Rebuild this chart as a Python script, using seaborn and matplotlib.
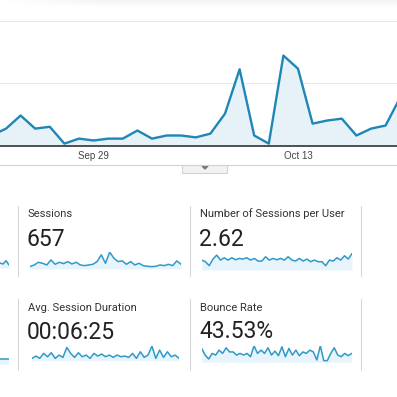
import numpy as np
import pandas as pd
import matplotlib
matplotlib.use("Agg")
import matplotlib.pyplot as plt
import seaborn as sns

sns.set_theme(style="white")
plt.rcParams['font.family'] = ['Roboto', 'DejaVu Sans']

# main chart: daily values Sep 22 .. Oct 20
days = pd.date_range('2019-09-22', '2019-10-20')
daily = [1.6, 2.7, 4.8, 2.7, 3.0, 0.3, 1.1, 0.8, 1.1, 1.1, 2.4, 1.1, 1.6, 1.6, 1.3,
         1.9, 5.1, 12.2, 1.6, 0.3, 14.4, 12.3, 3.5, 4.0, 4.3, 1.6, 2.7, 3.2, 7.7]
tick_dates = ['2019-09-29', '2019-10-13']
tick_labels = ['Sep 29', 'Oct 13']

# scorecards
card_titles = ['Sessions', 'Number of Sessions per User', 'Avg. Session Duration', 'Bounce Rate']
card_values = ['657', '2.62', '00:06:25', '43.53%']
sessions = [7, 12, 20, 17, 12, 27, 14, 20, 16, 22, 15, 20, 12, 10, 12, 14, 22, 42, 17, 50,
            32, 22, 24, 14, 22, 12, 17, 10, 8, 7, 8, 12, 10, 14, 10, 24, 14]
per_user = [2.62, 2.52, 2.28, 2.68, 2.92, 2.62, 2.76, 2.62, 2.76, 2.64, 2.72, 2.68, 2.76, 2.62,
            2.72, 2.56, 2.56, 2.82, 2.62, 2.72, 2.64, 2.72, 2.62, 2.82, 2.62, 2.56, 2.72, 2.56,
            2.68, 2.52, 2.62, 2.52, 2.52, 2.28, 2.62, 2.56, 2.76, 2.62, 2.88, 2.68, 3.02]
duration = [175, 350, 175, 550, 300, 600, 175, 425, 250, 1000, 550, 250, 600, 300, 425, 175,
            550, 350, 500, 300, 425, 250, 425, 300, 350, 250, 550, 175, 675, 250, 425, 1100,
            175, 800, 250, 675, 300, 425, 175]
bounce = [55.5, 39.5, 29.9, 43.5, 39.5, 51.5, 43.5, 57.1, 47.1, 47.1, 39.5, 43.5, 39.5, 43.5,
          35.5, 61.9, 43.5, 51.5, 43.5, 57.1, 39.5, 49.1, 37.9, 59.5, 35.5, 55.5, 39.5, 51.5,
          37.9, 47.1, 43.5, 51.5, 47.1, 27.5, 61.9, 25.9, 25.9, 43.5, 57.1, 39.5, 35.5, 43.5,
          37.9, 43.5]
users_tail = [5, 4, 7.3, 3]
pages_tail = [6, 6, 6, 6]

W = H = 397
LINE = '#1f86b6'
FILL = '#e6f2f8'
SPARK = '#3099c8'
SPARK_FILL = '#e8f4fb'


def fr(x0, y0, x1, y1):
    # pixel box -> figure fraction rect
    return [x0 / W, 1 - y1 / H, (x1 - x0) / W, (y1 - y0) / H]


fig = plt.figure(figsize=(W / 100, H / 100), dpi=100)

# faint top card shadow
sh = fig.add_axes(fr(0, 0, 397, 7))
grad = np.zeros((20, 60, 4))
grad[..., :3] = 0.5
fade_x = np.clip(np.linspace(0, 4, 60), 0, 1)
grad[..., 3] = np.linspace(0.09, 0, 20)[:, None] * fade_x[None, :]
sh.imshow(grad, aspect='auto', extent=[0, 1, 0, 1])
sh.axis('off')

# main chart
ax = fig.add_axes(fr(0, 0, 397, 145.5))
df = pd.DataFrame({'day': days, 'value': daily})
ax.fill_between(df['day'], df['value'], 0, color=FILL, zorder=1)
sns.lineplot(data=df, x='day', y='value', ax=ax, color=LINE, linewidth=1.7, zorder=3)
x_start = days[1] - pd.Timedelta(days=6 / 14.6)
x_end = days[1] + pd.Timedelta(days=391 / 14.6)
ax.set_xlim(x_start, x_end)
ax.set_ylim(0, 23.3)
ax.set_yticks([10, 20])
ax.yaxis.grid(True, color='#e8e8e8', linewidth=0.8)
ax.set_axisbelow(True)
ax.set_yticklabels([])
ax.set_xticks(pd.to_datetime(tick_dates))
ax.set_xticklabels(tick_labels, fontsize=7, color='#444444', family=['Liberation Sans', 'DejaVu Sans'])
ax.tick_params(axis='x', length=0, pad=4)
ax.tick_params(axis='y', length=0)
ax.set_xlabel('')
ax.set_ylabel('')
for s in ['top', 'left', 'right']:
    ax.spines[s].set_visible(False)
ax.spines['bottom'].set_color('#333333')
ax.spines['bottom'].set_linewidth(1.2)
ax.patch.set_alpha(0)

# divider and small tab
over = fig.add_axes([0, 0, 1, 1])
over.set_xlim(0, W)
over.set_ylim(H, 0)
over.axis('off')
over.plot([0, W], [164.5, 164.5], color='#d2d2d2', lw=0.8)
over.add_patch(plt.Rectangle((182, 164.5), 45, 8, facecolor='#f2f2f2', edgecolor='#d2d2d2', lw=0.8))
over.add_patch(plt.Polygon([[202, 166], [208, 166], [205, 169]], color='#777777'))
for x in [18, 190, 361]:
    over.plot([x, x], [206, 276], color='#d6d6d6', lw=0.8)
    over.plot([x, x], [299, 370], color='#d6d6d6', lw=0.8)

# card texts
title_pos = [(28, 217), (200, 217), (28, 311), (200, 311)]
value_pos = [(27, 246), (199, 246), (27, 339), (199, 338)]
for t, v, tp, vp in zip(card_titles, card_values, title_pos, value_pos):
    over.text(tp[0], tp[1], t, fontsize=8, color='#333333', va='baseline', ha='left')
    over.text(vp[0], vp[1], v, fontsize=16.5, color='#222222', va='baseline', ha='left')


def spark(vals, box, lo, hi):
    a = fig.add_axes(fr(*box))
    sdf = pd.DataFrame({'i': np.arange(len(vals)), 'v': vals})
    a.fill_between(sdf['i'], sdf['v'], lo, color=SPARK_FILL, lw=0)
    sns.lineplot(data=sdf, x='i', y='v', ax=a, color=SPARK, linewidth=1.1)
    a.set_xlim(0, len(vals) - 1)
    a.set_ylim(lo, hi)
    a.axis('off')
    return a


spark(sessions, (30, 252, 181, 269), 0, 50.5)
spark(per_user, (201.7, 253.3, 352, 270), 2.02, 3.03)
spark(duration, (32, 346, 179, 360.7), 0, 1110)
spark(bounce, (201.7, 345.7, 351.7, 362.3), 21.9, 62.2)
spark(users_tail, (0, 258, 9, 268), 0, 10)
spark(pages_tail, (0, 355, 9, 365), 0, 10)

fig.savefig('out.png', dpi=100)
